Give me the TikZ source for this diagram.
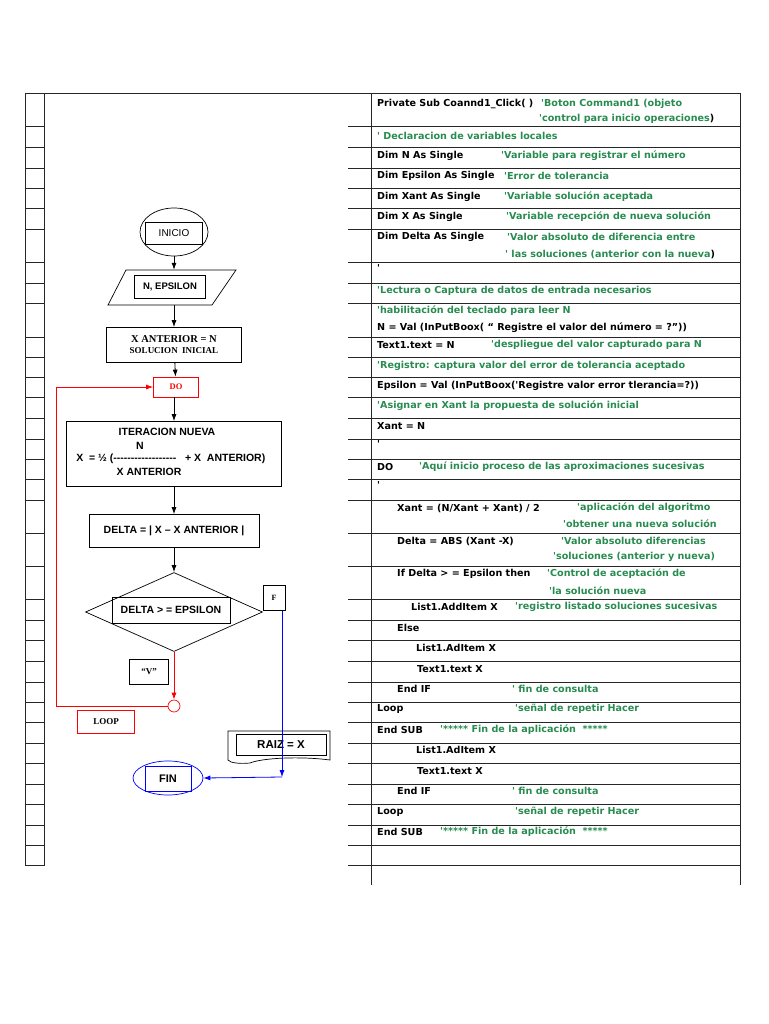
\documentclass[tikz,border=0pt]{standalone}
\usepackage{fontspec}
\setmainfont{Liberation Sans}
\newfontfamily\timesf{Liberation Serif}
\newfontfamily\codef{DejaVu Sans}
\usetikzlibrary{shapes.geometric,arrows.meta}
\definecolor{cmtgreen}{RGB}{40,140,80}

\begin{document}
\begin{tikzpicture}[x=1pt,y=-1pt,>={Latex[length=7pt,width=5pt]}]
    \tikzstyle{grid}=[black!85, line width=0.8pt]
    \tikzstyle{code}=[anchor=west, inner sep=0pt, font=\codef\fontsize{9.6}{10}\selectfont\bfseries]
    \tikzstyle{cmt}=[code, text=cmtgreen]
    \tikzstyle{box}=[draw, line width=0.7pt, inner sep=0pt, font=\fontsize{10.5}{11}\selectfont\bfseries]
    \tikzstyle{flow}=[->, line width=0.8pt]
    \useasboundingbox (0,0) rectangle (768,1024);

    %table grid
    \draw[grid] (25,93) -- (740,93);
    \draw[grid] (25,93) -- (25,865) -- (44,865) -- (44,93);
    \draw[grid] (371,93) -- (371,885);
    \draw[grid] (740,93) -- (740,885);
    \foreach \y in {126,147,168,188,208,229,262,283,303,337,357,377,397,418,439,459,479,500,533,566,599,620,640,661,682,702,722,743,763,784,804,825,845}
        {\draw[grid] (25,\y) -- (44,\y);
         \draw[grid] (348,\y) -- (740,\y);}
    \draw[grid] (348,865) -- (740,865);

    %code lines
    \node[code] (c1) at (377,104) {Private Sub Coannd1\_Click( )};
    \node[cmt] (m1) at (541,104) {'Boton Command1 (objeto};
    \node[cmt] (m1b) at (539,119) {'control para inicio operaciones\textcolor{black}{)}};
    \node[cmt] (m2) at (377,136) {' Declaracion de variables locales};
    \node[code] (c3) at (377,156) {Dim N As Single};
    \node[cmt] (m3) at (501,156) {'Variable para registrar el número};
    \node[code] (c4) at (377,176) {Dim Epsilon As Single};
    \node[cmt] (m4) at (504,176) {'Error de tolerancia};
    \node[code] (c5) at (377,197) {Dim Xant As Single};
    \node[cmt] (m5) at (504,197) {'Variable solución aceptada};
    \node[code] (c6) at (377,217) {Dim X As Single};
    \node[cmt] (m6) at (506,217) {'Variable recepción de nueva solución};
    \node[code] (c7) at (377,237) {Dim Delta As Single};
    \node[cmt] (m7) at (507,237) {'Valor absoluto de diferencia entre};
    \node[cmt] (m7b) at (505,254) {' las soluciones (anterior con la nueva\textcolor{black}{)}};
    \node[code] (c8) at (377,268) {'};
    \node[cmt] (m9) at (377,291) {'Lectura o Captura de datos de entrada necesarios};
    \node[cmt] (m10) at (377,311) {'habilitación del teclado para leer N};
    \node[code] (c10) at (377,328) {N = Val (InPutBoox( “ Registre el valor del número = ?”))};
    \node[code] (c11) at (377,345) {Text1.text = N};
    \node[cmt] (m11) at (491,345) {'despliegue del valor capturado para N};
    \node[cmt] (m12) at (377,366) {'Registro: captura valor del error de tolerancia aceptado};
    \node[code] (c13) at (377,386) {Epsilon = Val (InPutBoox('Registre valor error tlerancia=?))};
    \node[cmt] (m14) at (377,406) {'Asignar en Xant la propuesta de solución inicial};
    \node[code] (c15) at (377,426) {Xant = N};
    \node[code] (c16) at (377,444) {'};
    \node[code] (c17) at (377,467) {DO};
    \node[cmt] (m17) at (419,467) {'Aquí inicio proceso de las aproximaciones sucesivas};
    \node[code] (c18) at (377,485) {'};
    \node[code] (c19) at (397,508) {Xant = (N/Xant + Xant) / 2};
    \node[cmt] (m19) at (577,508) {'aplicación del algoritmo};
    \node[cmt] (m19b) at (563,524) {'obtener una nueva solución};
    \node[code] (c20) at (397,541) {Delta = ABS (Xant -X)};
    \node[cmt] (m20) at (561,541) {'Valor absoluto diferencias};
    \node[cmt] (m20b) at (553,557) {'soluciones (anterior y nueva)};
    \node[code] (c21) at (397,574) {If Delta > = Epsilon then};
    \node[cmt] (m21) at (547,574) {'Control de aceptación de};
    \node[cmt] (m21b) at (549,591) {'la solución nueva};
    \node[code] (c22) at (411,607) {List1.AddItem X};
    \node[cmt] (m22) at (515,607) {'registro listado soluciones sucesivas};
    \node[code] (c23) at (397,628) {Else};
    \foreach \y/\n in {648/a,750/b}
        \node[code] (ad-\n) at (416,\y) {List1.AdItem X};
    \foreach \y/\n in {669/a,771/b}
        \node[code] (tx-\n) at (417,\y) {Text1.text X};
    \foreach \y/\n in {689/a,791/b}
        {\node[code] (ei-\n) at (397,\y) {End IF};
         \node[cmt] (fc-\n) at (512,\y) {' fin de consulta};}
    \foreach \y/\n in {709/a,812/b}
        {\node[code] (lp-\n) at (377,\y) {Loop};
         \node[cmt] (sr-\n) at (515,\y) {'señal de repetir Hacer};}
    \foreach \y/\n in {730/a,832/b}
        {\node[code] (es-\n) at (377,\y) {End SUB};
         \node[cmt] (fa-\n) at (440,\y) {'***** Fin de la aplicación\ \ *****};}

    %flowchart
    \node[draw, ellipse, minimum width=68pt, minimum height=48pt, line width=0.7pt] (inicio) at (174,232) {};
    \node[draw, minimum width=57pt, minimum height=22pt, line width=0.7pt, font=\fontsize{10}{11}\selectfont] (inicioT) at (174,233) {INICIO};
    \draw[line width=0.7pt] (126,270) -- (236,270) -- (212,305) -- (108,305) -- cycle;
    \node[minimum width=100pt, minimum height=35pt, inner sep=0pt] (datos) at (174,287.5) {};
    \node[box, minimum width=71pt, minimum height=23pt, font=\fontsize{9.5}{10}\selectfont\bfseries] (datosT) at (170,287) {N, EPSILON};
    \node[box, minimum width=135pt, minimum height=35pt, align=center, font=\timesf\bfseries] (xant) at (174,345) {{\fontsize{10.5}{11}\selectfont X ANTERIOR = N}\\[-1pt]{\fontsize{9}{10}\selectfont SOLUCION\ \ INICIAL}};
    \node[box, red, minimum width=45pt, minimum height=20pt, text=red, font=\timesf\bfseries\fontsize{8.5}{9}\selectfont] (do) at (176,387) {DO};
    \node[box, minimum width=215pt, minimum height=65pt] (iter) at (174,454) {};
    \node[box, draw=none] (iterA) at (167,432) {ITERACION NUEVA};
    \node[box, draw=none] (iterN) at (140,446) {N};
    \node[box, draw=none, anchor=west] (iterX) at (76,459) {X\ \ = ½ ({-}{-}{-}{-}{-}{-}{-}{-}{-}{-}{-}{-}{-}{-}{-}{-}{-}{-}\ \ \ + X\ \ ANTERIOR)};
    \node[box, draw=none] (iterD) at (149,472) {X ANTERIOR};
    \node[box, minimum width=170pt, minimum height=33pt] (delta) at (174,531) {DELTA = | X -- X ANTERIOR |};
    \node[draw, diamond, minimum width=177pt, minimum height=79pt, inner sep=0pt, aspect=2.24, line width=0.7pt] (cond) at (174,612) {};
    \node[box, minimum width=118pt, minimum height=26pt] (condT) at (171,610) {DELTA > = EPSILON};
    \node[box, minimum width=22pt, minimum height=25pt, font=\timesf\bfseries\fontsize{8}{9}\selectfont] (falso) at (274,598) {F};
    \node[box, minimum width=39pt, minimum height=25pt, font=\timesf\bfseries\fontsize{9}{10}\selectfont] (verd) at (149,672) {“V”};
    \node[draw, red, circle, minimum size=12pt, inner sep=0pt, line width=0.7pt] (junta) at (174,706) {};
    \node[box, red, text=black, minimum width=57pt, minimum height=23pt, font=\timesf\bfseries\fontsize{9}{10}\selectfont] (loop) at (106,722) {LOOP};
    \draw[line width=0.7pt] (228,731) -- (330,731) -- (330,760) .. controls (300,756) and (262,758) .. (250,763) .. controls (240,764) and (230,763) .. (228,760) -- cycle;
    \node[box, minimum width=90pt, minimum height=21pt, font=\fontsize{11.5}{12}\selectfont\bfseries] (raiz) at (281,745) {RAIZ = X};
    \node[draw, blue, ellipse, minimum width=70pt, minimum height=34pt, line width=0.7pt] (fin) at (168,778) {};
    \node[box, blue, text=black, minimum width=46pt, minimum height=25pt, font=\fontsize{11}{12}\selectfont\bfseries] (finT) at (168,779) {FIN};
    \coordinate (rojo1) at (56,706);
    \coordinate (rojo2) at (56,387);
    \coordinate (azul1) at (282,611);
    \coordinate (azul2) at (282,777);

    %links
    \draw[flow] (inicio) -- (datos);
    \draw[flow] (datos) -- (xant);
    \draw[flow] (xant) -- (do);
    \draw[flow] (do.south -| iter.north) -- (iter);
    \draw[flow] (iter) -- (delta);
    \draw[flow] (delta) -- (cond);
    \draw[flow, red] (cond.south) -- (junta);
    \draw[red, line width=0.8pt, ->] (junta.west) -- (rojo1) -- (rojo2) -- (do.west);
    \draw[flow, blue] (azul1) -- (azul2);
    \draw[flow, blue] (azul2) -- (fin.east);
\end{tikzpicture}
\end{document}
